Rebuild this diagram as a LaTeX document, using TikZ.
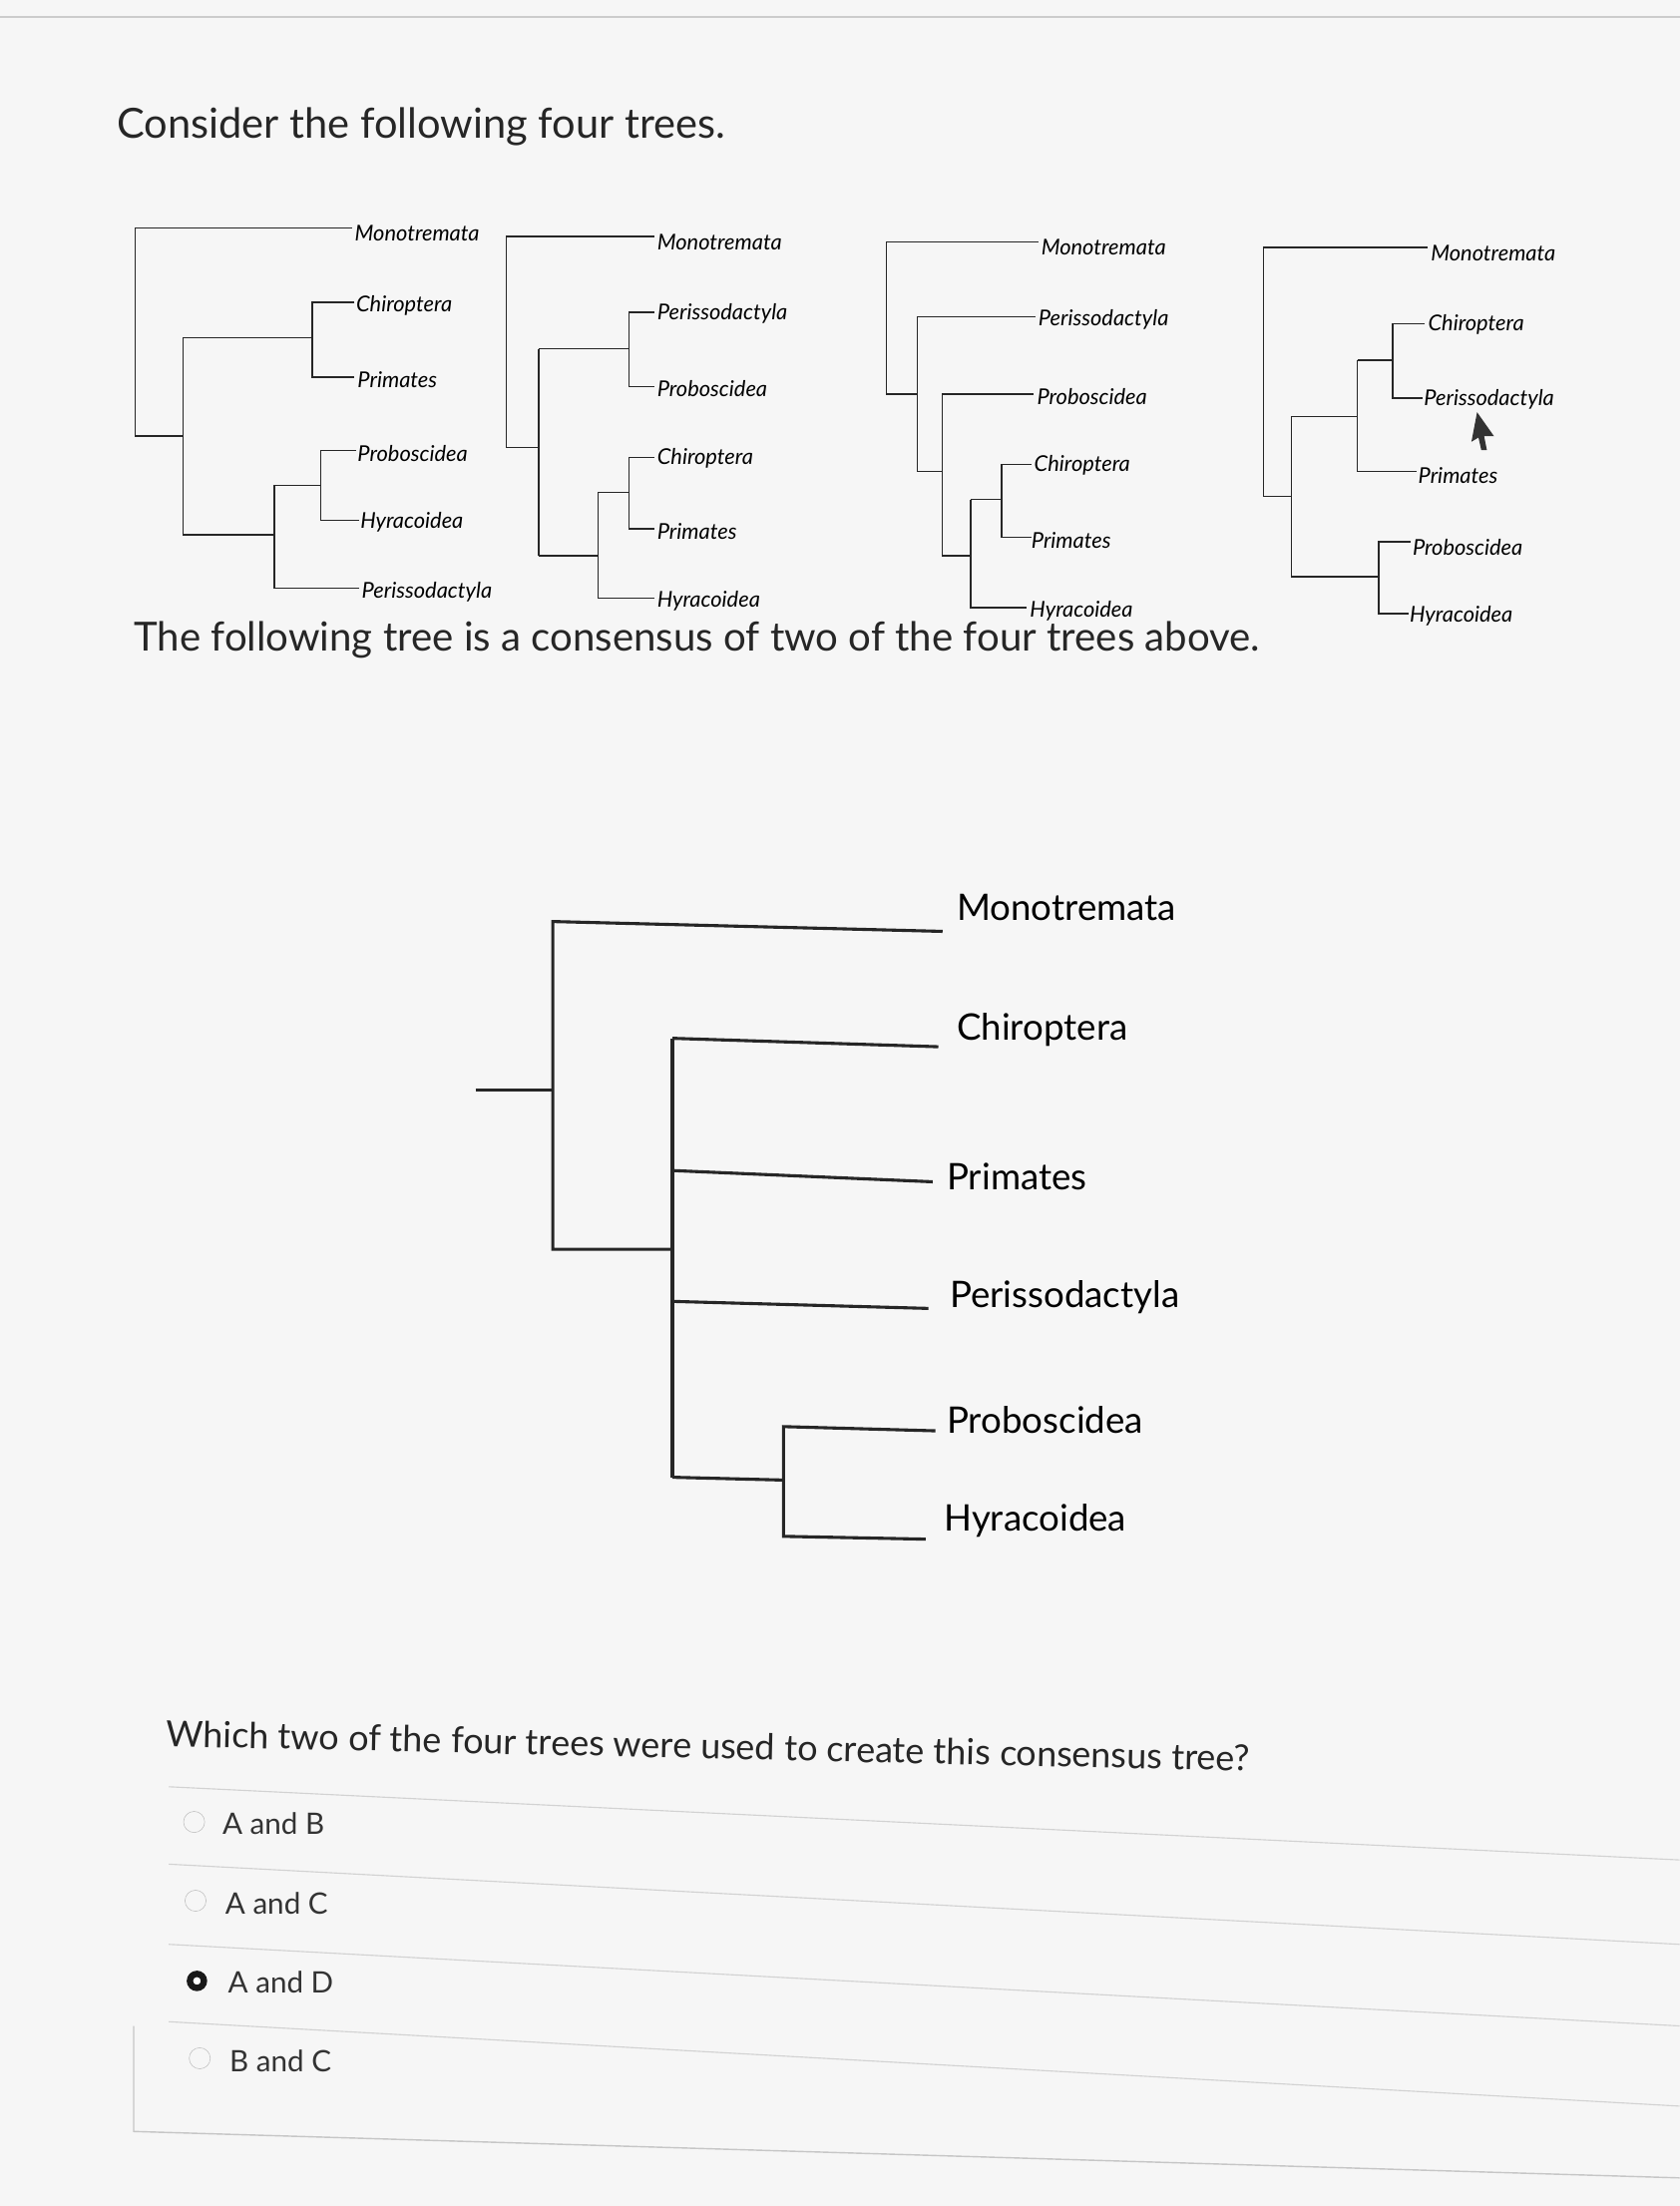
\documentclass[tikz,border=0pt]{standalone}
\usepackage{fontspec}
\setmainfont{Lato}
\begin{document}
\begin{tikzpicture}[x=1pt,y=-1pt,
  br/.style={draw=black!85,line width=1pt},
  bb/.style={draw=black!85,line width=2.2pt},
  sl/.style={anchor=west,inner sep=0,font=\fontsize{15.5}{17}\selectfont\itshape},
  bl/.style={anchor=west,inner sep=0,font=\fontsize{26}{31}\selectfont},
  ql/.style={anchor=west,inner sep=0,font=\fontsize{21}{26}\selectfont,text=black!80}]
\useasboundingbox (0,0) rectangle (1194,1568);
\fill[gray!7] (0,0) rectangle (1194,1568);
\draw[gray!40,line width=1pt] (0,12) -- (1194,12);
\node[anchor=west,inner sep=0,font=\fontsize{29.5}{34}\selectfont,text=black!85] (t1) at (83,90) {Consider the following four trees.};
% Tree A
\draw[br] (250,162) -- (96,162) -- (96,310) -- (130,310);
\draw[br] (130,240) -- (130,380);
\draw[br] (222,240) -- (130,240);
\draw[br] (252,215) -- (222,215) -- (222,268) -- (252,268);
\draw[br] (130,380) -- (195,380);
\draw[br] (195,345) -- (195,418) -- (255,418);
\draw[br] (195,345) -- (228,345);
\draw[br] (253,320) -- (228,320) -- (228,370) -- (255,370);
\node[sl] (a1) at (252,166) {Monotremata};
\node[sl] (a2) at (253,217) {Chiroptera};
\node[sl] (a3) at (254,270) {Primates};
\node[sl] (a4) at (254,322) {Proboscidea};
\node[sl] (a5) at (256,371) {Hyracoidea};
\node[sl] (a6) at (257,421) {Perissodactyla};
% Tree B
\draw[br] (465,168) -- (360,168) -- (360,318) -- (383,318);
\draw[br] (383,248) -- (383,395);
\draw[br] (383,248) -- (447,248);
\draw[br] (465,222) -- (447,222) -- (447,275) -- (465,275);
\draw[br] (383,395) -- (425,395);
\draw[br] (425,350) -- (425,425) -- (465,425);
\draw[br] (425,350) -- (447,350);
\draw[br] (465,325) -- (447,325) -- (447,376) -- (465,376);
\node[sl] (b1) at (467,172) {Monotremata};
\node[sl] (b2) at (467,223) {Perissodactyla};
\node[sl] (b3) at (467,276) {Proboscidea};
\node[sl] (b4) at (467,326) {Chiroptera};
\node[sl] (b5) at (467,378) {Primates};
\node[sl] (b6) at (467,427) {Hyracoidea};
% Tree C
\draw[br] (738,172) -- (630,172) -- (630,280) -- (652,280);
\draw[br] (652,225) -- (652,335);
\draw[br] (652,225) -- (736,225);
\draw[br] (652,335) -- (670,335);
\draw[br] (735,280) -- (670,280) -- (670,395) -- (690,395);
\draw[br] (690,355) -- (690,432) -- (730,432);
\draw[br] (690,355) -- (712,355);
\draw[br] (733,330) -- (712,330) -- (712,382) -- (733,382);
\node[sl] (c1) at (740,176) {Monotremata};
\node[sl] (c2) at (738,227) {Perissodactyla};
\node[sl] (c3) at (737,282) {Proboscidea};
\node[sl] (c4) at (735,331) {Chiroptera};
\node[sl] (c5) at (733,384) {Primates};
\node[sl] (c6) at (732,434) {Hyracoidea};
% Tree D
\draw[br] (1015,176) -- (898,176) -- (898,353) -- (918,353);
\draw[br] (918,296) -- (918,410);
\draw[br] (918,296) -- (965,296);
\draw[br] (965,256) -- (965,335) -- (1007,335);
\draw[br] (965,256) -- (990,256);
\draw[br] (1013,230) -- (990,230) -- (990,283) -- (1011,283);
\draw[br] (918,410) -- (980,410);
\draw[br] (1003,385) -- (980,385) -- (980,436) -- (1001,436);
\node[sl] (d1) at (1017,180) {Monotremata};
\node[sl] (d2) at (1015,231) {Chiroptera};
\node[sl] (d3) at (1012,284) {Perissodactyla};
\node[sl] (d4) at (1008,338) {Primates};
\node[sl] (d5) at (1004,389) {Proboscidea};
\node[sl] (d6) at (1002,438) {Hyracoidea};
\fill[black!80] (1050,293) -- (1062,310) -- (1055,310) -- (1057,320) -- (1053,320) -- (1051,311) -- (1046,314) -- cycle;
\node[anchor=west,inner sep=0,font=\fontsize{28.5}{33}\selectfont,text=black!85] (t2) at (95,455) {The following tree is a consensus of two of the four trees above.};
% Consensus
\draw[bb] (338,775) -- (393,775);
\draw[bb] (670,662) -- (393,655) -- (393,888) -- (478,888);
\draw[bb] (478,738) -- (478,1050);
\draw[bb] (478,738) -- (667,744);
\draw[bb] (478,832) -- (663,840);
\draw[bb] (478,925) -- (660,930);
\draw[bb] (478,1050) -- (557,1052);
\draw[bb] (665,1017) -- (557,1014) -- (557,1092) -- (658,1094);
\node[bl] (e1) at (680,645) {Monotremata};
\node[bl] (e2) at (680,732) {Chiroptera};
\node[bl] (e3) at (673,836) {Primates};
\node[bl] (e4) at (675,922) {Perissodactyla};
\node[bl] (e5) at (673,1009) {Proboscidea};
\node[bl] (e6) at (671,1081) {Hyracoidea};
% Question
\node[anchor=west,inner sep=0,font=\fontsize{25.5}{30}\selectfont,text=black!85,rotate=-1.3] (q) at (118,1232) {Which two of the four trees were used to create this consensus tree?};
\draw[gray!35,line width=0.8pt] (120,1270) -- (1194,1322);
\draw[gray!35,line width=0.8pt] (120,1325) -- (1194,1382);
\draw[gray!35,line width=0.8pt] (120,1382) -- (1194,1440);
\draw[gray!35,line width=0.8pt] (120,1437) -- (1194,1497);
\draw[gray!45,line width=1pt] (95,1440) -- (95,1515) -- (1194,1548);
\node[circle,draw=gray!50,minimum size=15pt,inner sep=0] (r1) at (138,1295) {};
\node[circle,draw=gray!50,minimum size=15pt,inner sep=0] (r2) at (139,1351) {};
\node[circle,draw=black!90,line width=4.5pt,fill=white,minimum size=10pt,inner sep=0] (r3) at (140,1408) {};
\node[circle,draw=gray!50,minimum size=15pt,inner sep=0] (r4) at (142,1463) {};
\node[ql] (o1) at (158,1296) {A and B};
\node[ql] (o2) at (160,1353) {A and C};
\node[ql] (o3) at (162,1409) {A and D};
\node[ql] (o4) at (163,1465) {B and C};
\end{tikzpicture}
\end{document}
